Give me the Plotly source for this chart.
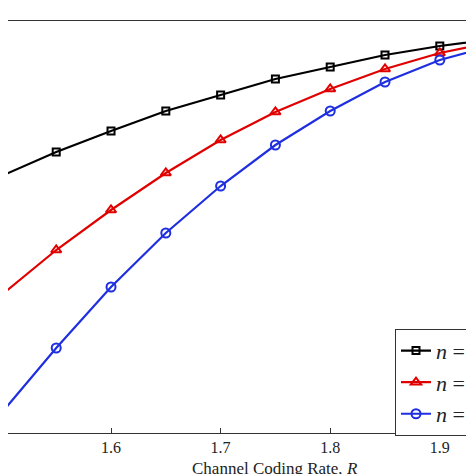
import plotly.graph_objects as go

rate = [1.50, 1.55, 1.60, 1.65, 1.70, 1.75, 1.80, 1.85, 1.90, 1.95]
# y values (arbitrary units, axis labels cropped)
n_small = [257, 281, 302, 322, 338, 354, 366, 378, 387, 394]
n_mid = [138, 183, 223, 260, 293, 321, 344, 364, 380, 391]
n_large = [20, 85, 146, 200, 247, 288, 322, 351, 373, 388]
names = ["<i>n</i> =", "<i>n</i> = ", "<i>n</i> =  "]

fig = go.Figure()
styles = [("black", "square-open", n_small), ("#e00000", "triangle-up-open", n_mid), ("#1f2fe0", "circle-open", n_large)]
for name, (col, sym, vals) in zip(names, styles):
    fig.add_trace(go.Scatter(
        x=rate, y=vals, name=name, mode="lines+markers",
        line=dict(color=col, width=2.2),
        marker=dict(symbol=sym, size=9 if sym != "square-open" else 7, color=col, line=dict(width=2, color=col)),
    ))

axis = dict(showgrid=False, zeroline=False, showline=True, linecolor="#333", mirror=True,
            ticks="inside", ticklen=5, tickcolor="#333")
fig.update_layout(
    width=474, height=474, autosize=False,
    margin=dict(l=0, r=0, t=13, b=49),
    plot_bgcolor="white", paper_bgcolor="white",
    font=dict(family="Liberation Serif, DejaVu Serif, serif", size=16, color="#222"),
    xaxis=dict(axis, range=[1.506, 1.9385], tickvals=[1.5, 1.6, 1.7, 1.8, 1.9, 2.0]),
    yaxis=dict(axis, range=[0, 412], showticklabels=False, tickvals=[]),
    showlegend=True,
    legend=dict(x=0.817, y=0.253, xanchor="left", yanchor="top", bgcolor="white",
                bordercolor="#333", borderwidth=1, font=dict(size=22, family="Liberation Serif"),
                itemwidth=30, tracegroupgap=0),
)
fig.add_annotation(text="Channel Coding Rate, <i>R</i>", x=1.75, xref="x", y=0, yref="paper",
                   yanchor="top", yshift=-24, showarrow=False, font=dict(size=17))
fig.write_html("out.html")
